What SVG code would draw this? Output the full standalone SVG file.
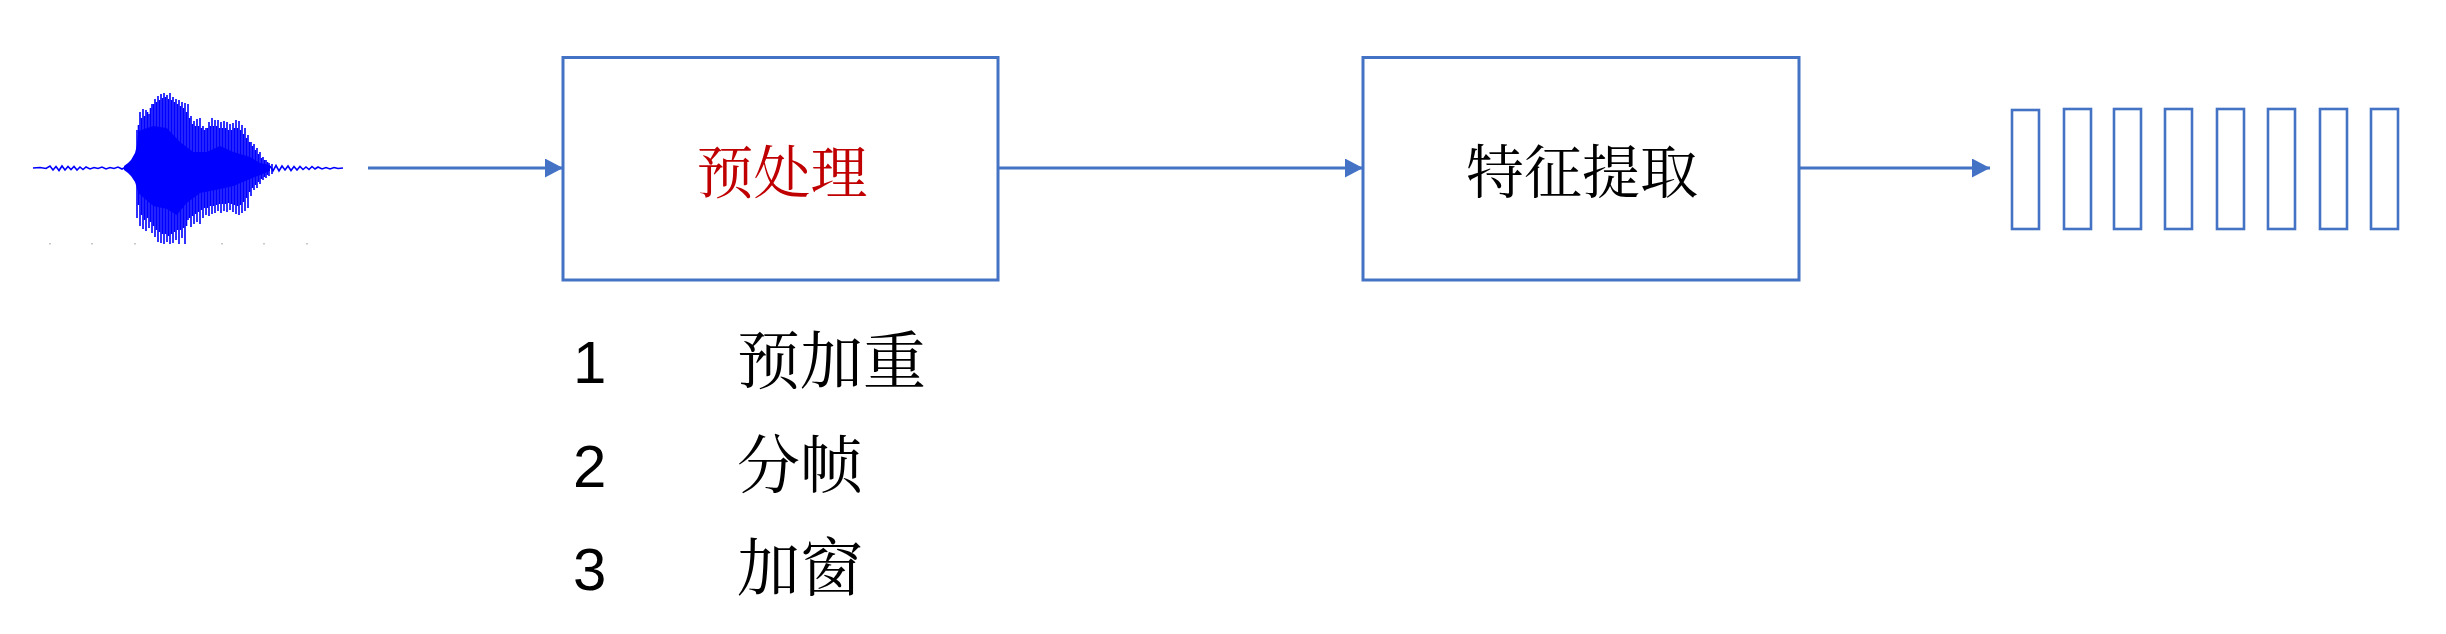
<svg xmlns="http://www.w3.org/2000/svg" width="2446" height="634" viewBox="0 0 2446 634">
<style>
.box{fill:#fff;stroke:#4472C4;stroke-width:3}
.frame{fill:none;stroke:#4472C4;stroke-width:2.6}
.conn{fill:none;stroke:#4472C4;stroke-width:3}
.cjk{font-family:"Noto Serif CJK SC","Noto Sans CJK SC",serif}
.num{font-family:"Liberation Sans",Arial,sans-serif;font-size:60px;fill:#000}
.wave{fill:none;stroke:#0000FF;stroke-width:1.6}
</style>
<defs>
<marker id="arr" markerUnits="userSpaceOnUse" markerWidth="18" markerHeight="19" refX="18" refY="9.5" orient="auto">
<path d="M0,0 L18,9.5 L0,19 Z" fill="#4472C4"/>
</marker>
</defs>
<rect width="2446" height="634" fill="#fff"/>

<g id="waveform">
<g fill="#c8c8c8">
<rect x="49" y="243" width="2" height="1.5"/>
<rect x="91" y="243" width="2" height="1.5"/>
<rect x="134" y="243" width="2" height="1.5"/>
<rect x="221" y="243" width="2" height="1.5"/>
<rect x="263" y="243" width="2" height="1.5"/>
<rect x="306" y="243" width="2" height="1.5"/>
</g>
<polyline class="wave" stroke-width="2" points="33,168 40,167.5 46,168.5 50,166 53,170 56,166.5 59,170.5 62,166 65,170 68,166.5 71,169.5 74,166.5 77,170 80,167 83,169.5 86,167 90,169 94,167.5 98,168.5 102,167 106,169 110,167.5 114,168.5 118,167 122,169 126,167"/>
<polyline class="wave" stroke-width="2" points="270,166 273,171 276,165.5 279,171 282,166 285,170 288,166 291,170.5 294,166.5 297,170 300,166.5 303,169.5 306,167 309,169.5 312,166.5 315,169 318,167 322,169 326,167.5 330,169 334,167.5 338,168.5 343,168"/>
<path fill="#0000FF" d="M124,166 L128,163 L131,160 L135,153 L137,145 L138.3,131 L153.3,126 L166.7,128 L180,142 L193.3,152 L206.7,152 L220,146 L233.3,152 L250,157 L260,163 L270,165 L270,171 L260,175 L250,179 L233.3,186 L220,189 L200,193 L186.7,203 L176.7,215 L166.7,209 L153.3,206 L138.3,193 L137,188 L135,182 L131,176 L128,173 L124,170 Z"/>
<path class="wave" d="M137,130V218 M140,112V226 M143,109V229 M146,110V231 M149,114V228 M152,104V233 M155,99V237 M158,96V242 M161,94V243 M164,93V244 M167,95V242 M170,93V244 M173,97V243 M176,99V240 M179,100V244 M182,102V238 M185,103V244 M188,104V220 M191,116V227 M194,121V224 M197,119V222 M200,118V224 M203,126V218 M206,128V215 M209,122V216 M212,118V214 M215,120V213 M218,120V211 M221,122V213 M224,121V211 M227,122V212 M230,124V210 M233,123V212 M236,120V214 M239,121V215 M242,125V213 M245,128V211 M248,135V208 M251,142V196 M254,144V190 M257,148V188 M260,152V184 M263,157V180 M266,160V178 M269,163V176 M272,164V174"/>
<path class="wave" stroke-width="1.3" d="M138.5,125V205 M141.5,118V215 M144.5,116V220 M147.5,112V218 M150.5,108V222 M153.5,104V226 M156.5,102V230 M159.5,100V232 M162.5,98V234 M165.5,97V234 M168.5,99V236 M171.5,100V234 M174.5,102V232 M177.5,104V230 M180.5,106V230 M183.5,108V228 M186.5,112V226 M189.5,118V218 M192.5,124V216 M195.5,126V214 M198.5,126V212 M201.5,128V210 M204.5,130V208 M207.5,128V208 M210.5,126V206 M213.5,126V206 M216.5,126V205 M219.5,128V204 M222.5,128V204 M225.5,128V204 M228.5,130V203 M231.5,130V204 M234.5,128V205 M237.5,128V206 M240.5,130V205 M243.5,134V202 M246.5,138V198 M249.5,142V192 M252.5,146V188 M255.5,150V185 M258.5,154V182 M261.5,158V179 M264.5,160V177 M267.5,162V175"/>
</g>

<g id="connectors">
<line class="conn" x1="368" y1="168" x2="563" y2="168" marker-end="url(#arr)"/>
<line class="conn" x1="998" y1="168" x2="1363" y2="168" marker-end="url(#arr)"/>
<line class="conn" x1="1799" y1="168" x2="1990" y2="168" marker-end="url(#arr)"/>
</g>

<g id="preprocess">
<rect class="box" x="563" y="57.5" width="435" height="222.5"/>
<text class="cjk" x="782" y="168" font-size="57" fill="#C00000" text-anchor="middle" dominant-baseline="central">预处理</text>
</g>

<g id="feature">
<rect class="box" x="1363" y="57.5" width="436" height="222.5"/>
<text class="cjk" x="1582" y="168" font-size="58" fill="#000" text-anchor="middle" dominant-baseline="central">特征提取</text>
</g>

<g id="frames">
<rect class="frame" x="2012" y="110" width="27" height="119"/>
<rect class="frame" x="2064" y="109" width="27" height="120"/>
<rect class="frame" x="2114" y="109" width="27" height="120"/>
<rect class="frame" x="2165" y="109" width="27" height="120"/>
<rect class="frame" x="2217" y="109" width="27" height="120"/>
<rect class="frame" x="2268" y="109" width="27" height="120"/>
<rect class="frame" x="2320" y="109" width="27" height="120"/>
<rect class="frame" x="2371" y="109" width="27" height="120"/>
</g>

<g id="steps">
<text class="num" x="573" y="383">1</text>
<text class="cjk" x="737" y="383" font-size="63" fill="#000">预加重</text>
<text class="num" x="573" y="487">2</text>
<text class="cjk" x="737" y="487" font-size="63" fill="#000">分帧</text>
<text class="num" x="573" y="590">3</text>
<text class="cjk" x="737" y="590" font-size="63" fill="#000">加窗</text>
</g>
</svg>
